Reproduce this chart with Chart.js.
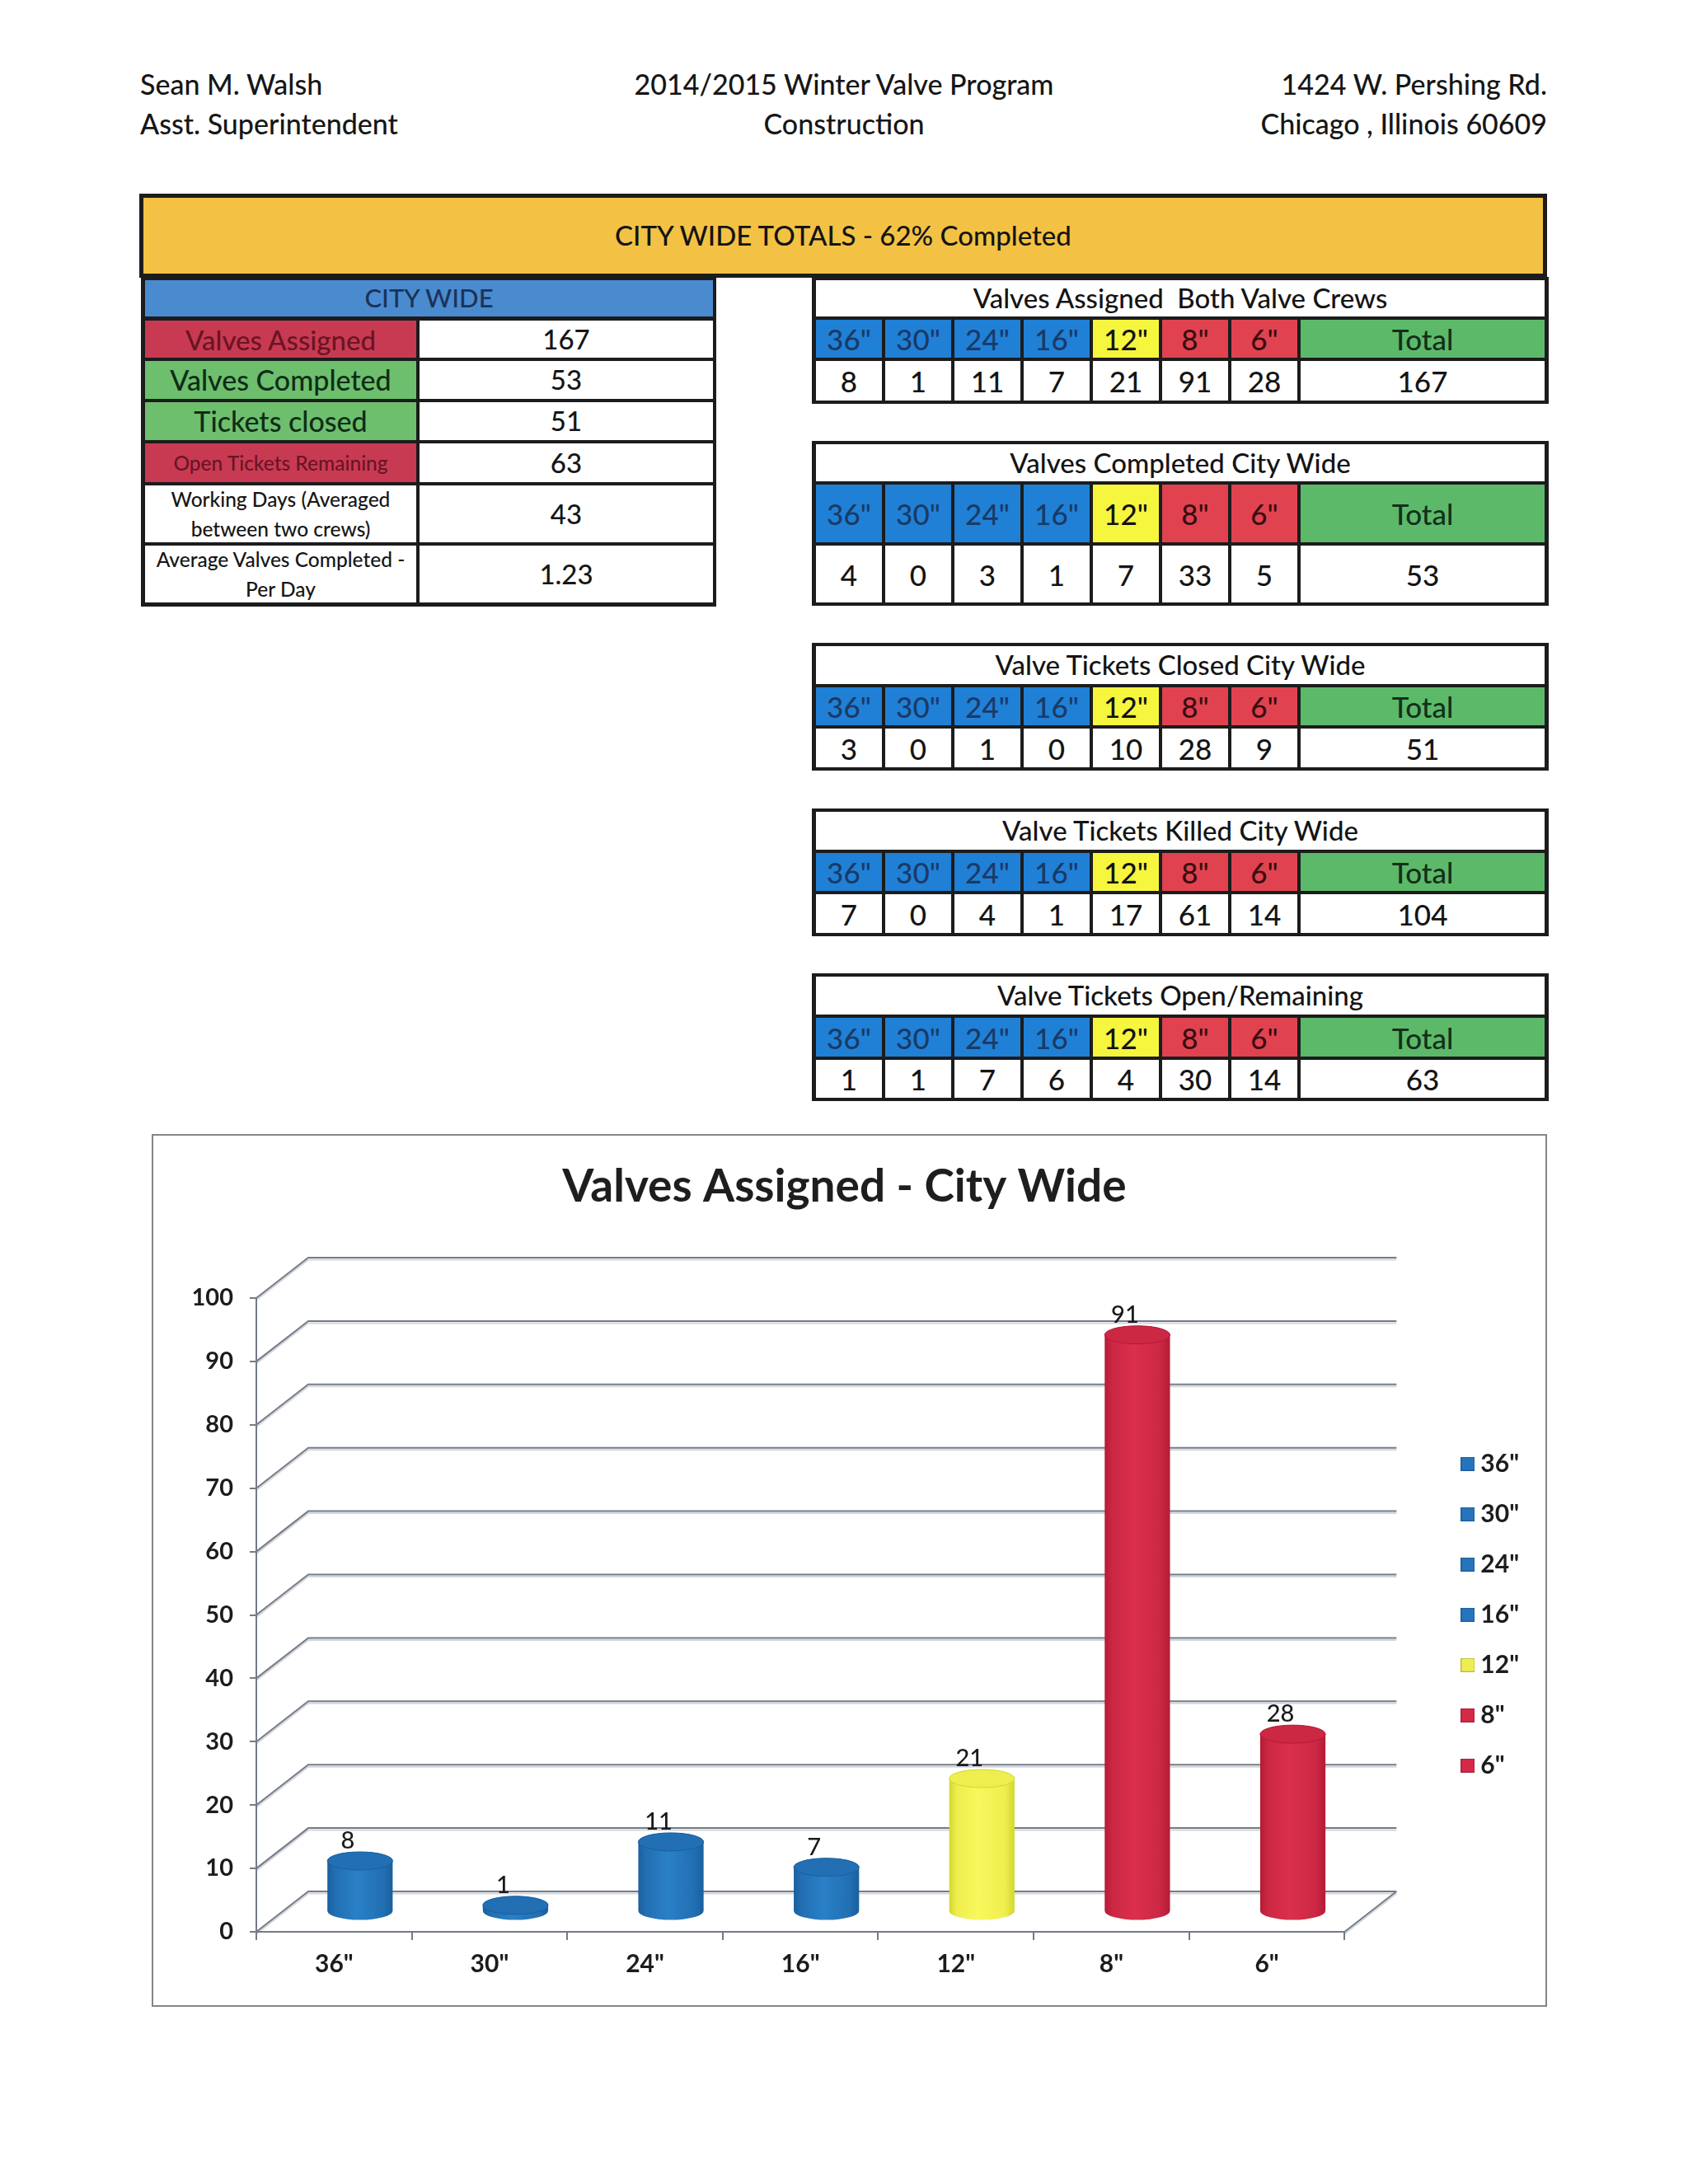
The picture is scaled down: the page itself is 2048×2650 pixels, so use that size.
<!DOCTYPE html>
<html><head><meta charset="utf-8">
<script src="https://cdn.jsdelivr.net/npm/chart.js@4.4.1/dist/chart.umd.min.js"></script>
<style>
html,body{margin:0;padding:0;background:#fff}
#page{position:relative;width:2048px;height:2650px;overflow:hidden;font-family:Lato,"Noto Sans",sans-serif;color:#161616;font-weight:500}
.t{position:absolute;white-space:nowrap;font-size:34px;line-height:48px}
.c{position:absolute;display:flex;align-items:center;justify-content:center;text-align:center;box-sizing:border-box;white-space:pre-line;line-height:1.2}
#chartBox{position:absolute;left:184px;top:1376px;width:1693px;height:1059px;border:2px solid #858585;box-sizing:border-box;background:#fff}
</style></head>
<body><div id="page">
<div class="t" style="left:170px;top:78px">Sean M. Walsh<br>Asst. Superintendent</div>
<div class="t" style="left:0;width:2048px;text-align:center;top:78px">2014/2015 Winter Valve Program<br>Construction</div>
<div class="t" style="right:171px;text-align:right;top:78px">1424 W. Pershing Rd.<br>Chicago , Illinois 60609</div>
<div id="chartBox"><canvas id="cv"></canvas></div>
</div>
<script>
// ---- data ----
const sizes = ['36"','30"','24"','16"','12"','8"','6"'];
const sizeGroups = ['blue','blue','blue','blue','yellow','red','red'];
const assignedBoth = [8,1,11,7,21,91,28];
const completedCity = [4,0,3,1,7,33,5];
const closedCity = [3,0,1,0,10,28,9];
const killedCity = [7,0,4,1,17,61,14];
const openRemaining = [1,1,7,6,4,30,14];
const tableTitles = ['Valves Assigned  Both Valve Crews','Valves Completed City Wide','Valve Tickets Closed City Wide','Valve Tickets Killed City Wide','Valve Tickets Open/Remaining'];
const tableTotals = [167,53,51,104,63];
const cityLabels = ['Valves Assigned','Valves Completed','Tickets closed','Open Tickets Remaining','Working Days (Averaged\nbetween two crews)','Average Valves Completed -\nPer Day'];
const cityValues = ['167','53','51','63','43','1.23'];
const bannerText = 'CITY WIDE TOTALS - 62% Completed';
const chartTitle = 'Valves Assigned - City Wide';

// ---- styles ----
const FONT = 'Lato, "Noto Sans", sans-serif';
const BORDER = '#1c1c1c';
const cellBg = {blue:'#2080d6', yellow:'#f6f63e', red:'#e0434f', green:'#5db96a'};
const cellFg = {blue:'#1a3a66', yellow:'#121212', red:'#3a0d12', green:'#12301a'};
const legendColor = {blue:'#2674bc', yellow:'#eeee50', red:'#d42a48'};
const shades = {
  blue:{dark:'#1a5f9f', light:'#2a80c6', cap:'#226fb3'},
  yellow:{dark:'#d2d82e', light:'#f8f85e', cap:'#eeee4e'},
  red:{dark:'#b41b36', light:'#da2f4d', cap:'#cc2843'}
};

const page = document.getElementById('page');
function box(x,y,w,h,bg,text,fs,color,extra){
  const d=document.createElement('div'); d.className='c';
  Object.assign(d.style,{left:x+'px',top:y+'px',width:w+'px',height:h+'px',background:bg,fontSize:fs+'px',color:color||'#161616'});
  if(extra) Object.assign(d.style, extra);
  d.textContent=text; page.appendChild(d); return d;
}

// banner
box(169,235,1708,102,'#f3c244',bannerText,33,'#141414',{border:'5px solid '+BORDER});

// city wide table
box(171,336,698,400,BORDER,'',10);
box(176,340,689,44,'#4a8bd0','CITY WIDE',31,'#1b3358');
const cityRows=[[389,45],[438,46],[488,46],[538,47],[589,69],[662,69]];
const cityStyle=[
  ['#c83a52','#6a1424',33],['#6dbf6e','#0f2d16',34],['#6dbf6e','#0f2d16',34],
  ['#c83a52','#6a1424',24.5],['#ffffff','#161616',24.5],['#ffffff','#161616',24.5]
];
cityRows.forEach((r,i)=>{
  box(176,r[0],329,r[1],cityStyle[i][0],cityLabels[i],cityStyle[i][2],cityStyle[i][1],{lineHeight:'36px'});
  box(509,r[0],356,r[1],'#ffffff',cityValues[i],33,'#161616');
});

// size tables
const tableData=[assignedBoth,completedCity,closedCity,killedCity,openRemaining];
const tableLayout=[
  {top:336,tY:340,tH:44,hY:388,hH:46,vY:438,vH:48},
  {top:535,tY:539,tH:45,hY:588,hH:70,vY:662,vH:69},
  {top:780,tY:784,tH:46,hY:834,hH:46,vY:884,vH:47},
  {top:981,tY:985,tH:46,hY:1035,hH:46,vY:1085,vH:47},
  {top:1181,tY:1185,tH:46,hY:1235,hH:47,vY:1286,vH:46}
];
tableLayout.forEach((L,k)=>{
  const bottom=L.vY+L.vH+4;
  box(985,L.top,894,bottom-L.top,BORDER,'',10);
  box(990,L.tY,884,L.tH,'#ffffff',tableTitles[k],33,'#141414',{whiteSpace:'pre'});
  sizes.forEach((s,i)=>{
    const g=sizeGroups[i];
    box(990+i*84,L.hY,80,L.hH,cellBg[g],s,35,cellFg[g]);
    box(990+i*84,L.vY,80,L.vH,'#ffffff',String(tableData[k][i]),35,'#141414');
  });
  box(1578,L.hY,296,L.hH,cellBg.green,'Total',35,cellFg.green);
  box(1578,L.vY,296,L.vH,'#ffffff',String(tableTotals[k]),35,'#141414');
});

// ---- chart ----
const DX=63, DY=-49, RY=11;
const barColors = sizeGroups.map(g=>legendColor[g]);
function swatch(col){
  const c=document.createElement('canvas'); c.width=17; c.height=17;
  const x=c.getContext('2d');
  x.fillStyle=col; x.fillRect(0,0,17,17);
  x.strokeStyle='rgba(0,0,0,0.22)'; x.lineWidth=1; x.strokeRect(0.5,0.5,16,16);
  return c;
}
const swatches = barColors.map(swatch);

const threeD = {
  id:'threeD',
  beforeDraw(chart){
    const {ctx, chartArea:a, scales:{y}} = chart;
    ctx.save();
    const vals = y.ticks.map(t=>t.value);
    const draw=(col,off)=>{
      ctx.strokeStyle=col; ctx.lineWidth=2;
      vals.forEach(v=>{
        const py=y.getPixelForValue(v)+off;
        ctx.beginPath(); ctx.moveTo(a.left,py); ctx.lineTo(a.left+DX,py+DY); ctx.lineTo(a.right+DX,py+DY); ctx.stroke();
      });
      const p0=y.getPixelForValue(0)+off;
      ctx.beginPath(); ctx.moveTo(a.right,p0); ctx.lineTo(a.right+DX,p0+DY); ctx.stroke();
    };
    draw('#d3d6db',2.5);
    draw('#737b88',0);
    ctx.restore();
  },
  beforeDatasetDraw(){ return false; },
  afterDatasetsDraw(chart){
    const ctx=chart.ctx, meta=chart.getDatasetMeta(0), data=chart.data.datasets[0].data;
    ctx.save();
    meta.data.forEach((bar,i)=>{
      const p=bar.getProps(['x','y','base','width'],true);
      const cx=p.x+DX/2, top=p.y+DY/2, bot=p.base+DY/2, r=p.width/2;
      const c=shades[sizeGroups[i]];
      const g=ctx.createLinearGradient(cx-r,0,cx+r,0);
      g.addColorStop(0,c.dark); g.addColorStop(0.12,c.cap); g.addColorStop(0.45,c.light); g.addColorStop(0.85,c.cap); g.addColorStop(1,c.dark);
      ctx.fillStyle=g;
      ctx.beginPath();
      ctx.moveTo(cx-r,top); ctx.lineTo(cx-r,bot);
      ctx.ellipse(cx,bot,r,RY,0,Math.PI,0,true);
      ctx.lineTo(cx+r,top);
      ctx.ellipse(cx,top,r,RY,0,0,Math.PI,true);
      ctx.closePath(); ctx.fill();
      ctx.beginPath(); ctx.ellipse(cx,top,r,RY,0,0,Math.PI*2); ctx.fillStyle=c.cap; ctx.fill();
      ctx.strokeStyle=c.dark; ctx.lineWidth=1; ctx.stroke();
      ctx.fillStyle='#1a1a1a'; ctx.font='500 29px '+FONT; ctx.textAlign='center'; ctx.textBaseline='alphabetic';
      ctx.fillText(String(data[i]),cx-15,top-RY-4);
    });
    ctx.restore();
  }
};

new Chart(document.getElementById('cv'),{
  type:'bar',
  data:{labels:sizes,datasets:[{label:'Valves Assigned',data:assignedBoth,backgroundColor:barColors,barPercentage:0.42,categoryPercentage:1}]},
  options:{
    responsive:true, maintainAspectRatio:false, animation:false, devicePixelRatio:1, events:[],
    layout:{padding:{left:10,right:22,top:0,bottom:8}},
    scales:{
      x:{grid:{display:true,drawOnChartArea:false,drawTicks:true,tickLength:10,color:'#737b88',lineWidth:2,offset:true},
         border:{display:true,color:'#737b88',width:2},
         ticks:{color:'#1c1c1c',font:{family:FONT,size:30,weight:'bold'},padding:11,maxRotation:0},
         afterFit(s){s.height=81;}},
      y:{min:0,max:100,
         ticks:{stepSize:10,color:'#1c1c1c',font:{family:FONT,size:29,weight:'bold'},padding:20},
         grid:{drawOnChartArea:false,tickLength:8,color:'#737b88',lineWidth:2},
         border:{display:true,color:'#737b88',width:2},
         afterFit(s){s.width=115;}},
      yR:{position:'right',display:true,grid:{display:false},border:{display:false},ticks:{display:false},afterFit(s){s.width=118;}}
    },
    plugins:{
      title:{display:true,text:chartTitle,color:'#1e1e1e',font:{family:FONT,size:55,weight:'bold'},padding:{top:29,bottom:102}},
      legend:{display:true,position:'right',align:'start',
        title:{display:true,text:'',font:{size:1},padding:{top:351,bottom:0}},
        labels:{usePointStyle:true,pointStyleWidth:1,boxWidth:17,boxHeight:17,padding:31,color:'#1c1c1c',font:{family:FONT,size:30,weight:'bold'},
          generateLabels(){return sizes.map((s,i)=>({text:s,fillStyle:barColors[i],strokeStyle:barColors[i],pointStyle:swatches[i],lineWidth:0,hidden:false,index:i,datasetIndex:0,fontColor:'#1c1c1c'}));}}},
      tooltip:{enabled:false}
    }
  },
  plugins:[threeD]
});
</script>
</body></html>
